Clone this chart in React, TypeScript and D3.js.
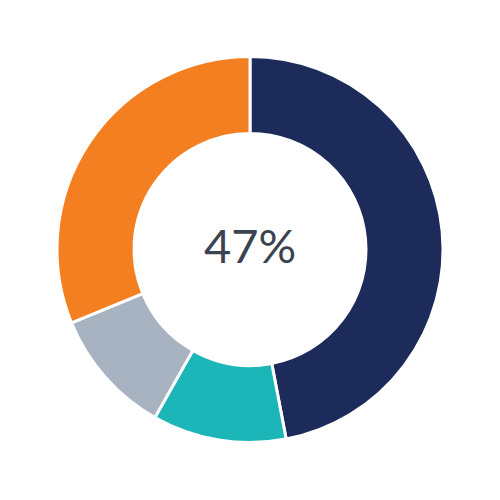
import { useRef, useEffect } from "react";
import * as d3 from "d3";

const svg_width = 500;
const svg_height = 500;

const categories = ["A", "B", "C", "D"];
const values = [47, 11.2, 10.6, 31.2];
const colors = ["#1c2b5a", "#1cb5b8", "#a8b3c2", "#f47f20"];
const center_label = "47%";

const outer_radius = 193;
const inner_radius = 116;

export default function App() {
    const ref = useRef<HTMLDivElement>(null);

    useEffect(() => {
        const destroy = () => {
            d3.select(ref.current).selectAll("*").remove();
        };

        const data = categories.map((c, i) => ({ name: c, value: values[i], color: colors[i] }));

        const pie = d3.pie<{ name: string; value: number; color: string }>()
            .sort(null)
            .value(d => d.value);

        const arc = d3.arc<d3.PieArcDatum<{ name: string; value: number; color: string }>>()
            .innerRadius(inner_radius)
            .outerRadius(outer_radius);

        const svg = d3.select(ref.current)
            .append("svg")
                .attr("width", svg_width)
                .attr("height", svg_height)
                .style("display", "block")
                .style("background-color", "white");

        const g = svg.append("g")
            .attr("transform", `translate(250, 249.5)`);

        g.selectAll("path")
            .data(pie(data))
            .join("path")
                .attr("d", arc)
                .attr("fill", d => d.data.color)
                .attr("stroke", "white")
                .attr("stroke-width", 3)
                .attr("stroke-linejoin", "miter");

        g.append("text")
            .attr("x", 0)
            .attr("y", 13)
            .attr("text-anchor", "middle")
            .style("font-family", "Lato, 'Open Sans', sans-serif")
            .style("font-size", "47px")
            .style("fill", "#3b4350")
            .text(center_label);

        return destroy;
    }, [ref]);

    return (
        <div ref={ref} style={{ position: "absolute", left: 0, top: 0 }} />
    );
}
